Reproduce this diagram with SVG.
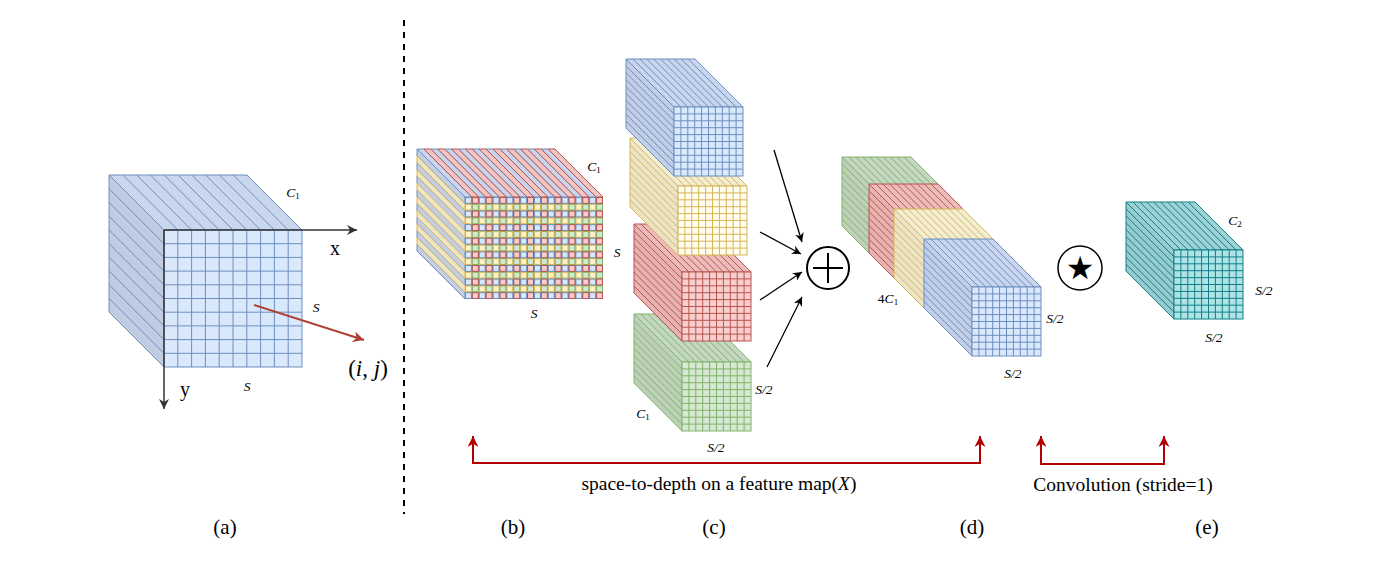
<svg xmlns="http://www.w3.org/2000/svg" xmlns:xlink="http://www.w3.org/1999/xlink" width="1387" height="571" viewBox="0 0 1387 571">
<style>
.t{font-family:"Liberation Serif","DejaVu Serif",serif;fill:#000}
.m{font-family:"Liberation Serif","DejaVu Serif",serif;font-style:italic;fill:#000;font-size:13.5px}
.cap{font-size:21px}
.blue{--f:#dae8fc;--t:#c8d5ec;--l:#c1cee5;--s:#6c8ebf}
.yellow{--f:#fffcf0;--t:#f3edd4;--l:#ece4c8;--s:#d6b656}
.red{--f:#f8cecc;--t:#ecbcba;--l:#e6b3b1;--s:#b85450}
.green{--f:#d5e8d4;--t:#c4d7c2;--l:#bdd0ba;--s:#82b366}
.teal{--f:#b0e3e6;--t:#9fd2d5;--l:#98cbce;--s:#0e8088}
</style>
<defs>
<marker id="ab" viewBox="0 0 10 10" refX="10" refY="5" markerWidth="9" markerHeight="9" markerUnits="userSpaceOnUse" orient="auto-start-reverse"><path d="M0 0L10 5L0 10L3 5z" fill="#000"/></marker>
<marker id="ag" viewBox="0 0 10 10" refX="10" refY="5" markerWidth="10" markerHeight="10" markerUnits="userSpaceOnUse" orient="auto-start-reverse"><path d="M0 0L10 5L0 10L3 5z" fill="#333"/></marker>
<marker id="ar" viewBox="0 0 10 10" refX="10" refY="5" markerWidth="11" markerHeight="11" markerUnits="userSpaceOnUse" orient="auto-start-reverse"><path d="M0 0L10 5L0 10L3 5z" fill="#ae4132"/></marker>
<marker id="ad" viewBox="0 0 10 10" refX="10" refY="5" markerWidth="11" markerHeight="11" markerUnits="userSpaceOnUse" orient="auto-start-reverse"><path d="M0 0L10 5L0 10L3 5z" fill="#b20000"/></marker>
<pattern id="p4" patternUnits="userSpaceOnUse" x="465" y="197" width="13.8" height="13.6">
<rect x="0.5" y="0.5" width="5.9" height="5.8" fill="#dae8fc" stroke="#6c8ebf"/>
<rect x="7.4" y="0.5" width="5.9" height="5.8" fill="#f8cecc" stroke="#b85450"/>
<rect x="0.5" y="7.3" width="5.9" height="5.8" fill="#fff2cc" stroke="#d6b656"/>
<rect x="7.4" y="7.3" width="5.9" height="5.8" fill="#d5e8d4" stroke="#82b366"/>
</pattern>
<g id="cub">
<path style="fill:var(--t);stroke:var(--s)" d="M0 0H69L21-48H-48Z"/>
<path style="fill:var(--l);stroke:var(--s)" d="M0 0V69L-48 21V-48Z"/>
<rect style="fill:var(--f);stroke:var(--s)" x="0" y="0" width="69" height="69"/>
<path style="fill:none;stroke:var(--s)" d="M6.9 0V69M13.8 0V69M20.7 0V69M27.6 0V69M34.5 0V69M41.4 0V69M48.3 0V69M55.2 0V69M62.1 0V69M0 6.9H69M0 13.8H69M0 20.7H69M0 27.6H69M0 34.5H69M0 41.4H69M0 48.3H69M0 55.2H69M0 62.1H69"/>
<path style="fill:none;stroke:var(--s)" d="M6.9 0l-48-48M13.8 0l-48-48M20.7 0l-48-48M27.6 0l-48-48M34.5 0l-48-48M41.4 0l-48-48M48.3 0l-48-48M55.2 0l-48-48M62.1 0l-48-48M0 6.9l-48-48M0 13.8l-48-48M0 20.7l-48-48M0 27.6l-48-48M0 34.5l-48-48M0 41.4l-48-48M0 48.3l-48-48M0 55.2l-48-48M0 62.1l-48-48"/>
</g>
</defs>
<rect width="1387" height="571" fill="#fff"/>

<!-- (a) -->
<g id="node-a-cube">
<path d="M164 230H302L247 175H109Z" fill="#c9d6ec" stroke="#6c8ebf"/>
<path d="M164 230V367L109 312V175Z" fill="#bfcce1" stroke="#6c8ebf"/>
<rect x="164" y="230" width="138" height="137" fill="#dae8fc" stroke="#6c8ebf"/>
<path fill="none" stroke="#6c8ebf" d="M177.8 230V367M191.6 230V367M205.4 230V367M219.2 230V367M233 230V367M246.8 230V367M260.6 230V367M274.4 230V367M288.2 230V367M164 243.7H302M164 257.4H302M164 271.1H302M164 284.8H302M164 298.5H302M164 312.2H302M164 325.9H302M164 339.6H302M164 353.3H302"/>
<path fill="none" stroke="#6c8ebf" d="M177.8 230l-55-55M191.6 230l-55-55M205.4 230l-55-55M219.2 230l-55-55M233 230l-55-55M246.8 230l-55-55M260.6 230l-55-55M274.4 230l-55-55M288.2 230l-55-55M164 243.7l-55-55M164 257.4l-55-55M164 271.1l-55-55M164 284.8l-55-55M164 298.5l-55-55M164 312.2l-55-55M164 325.9l-55-55M164 339.6l-55-55M164 353.3l-55-55"/>
<text class="m" x="293" y="197" text-anchor="middle">C<tspan font-style="normal" font-size="9" dy="2">1</tspan></text>
<text class="m" x="316" y="312" text-anchor="middle">S</text>
<text class="m" x="247" y="391" text-anchor="middle">S</text>
</g>
<g id="axes-a">
<path d="M164 230H357" fill="none" stroke="#333" stroke-width="1.5" marker-end="url(#ag)"/>
<path d="M164 230V409" fill="none" stroke="#333" stroke-width="1.5" marker-end="url(#ag)"/>
<text class="t" x="335" y="255" font-size="20" text-anchor="middle">x</text>
<text class="t" x="185" y="396" font-size="20" text-anchor="middle">y</text>
<path d="M254 305L364 340" fill="none" stroke="#ae4132" stroke-width="2" marker-end="url(#ar)"/>
<text class="t" x="368" y="376" font-size="23" text-anchor="middle">(<tspan font-style="italic">i</tspan>, <tspan font-style="italic">j</tspan>)</text>
</g>

<path id="divider" d="M404 20V514" fill="none" stroke="#000" stroke-width="2" stroke-dasharray="6 6"/>

<!-- (b) -->
<g id="node-b">
<path fill="#c8d5ec" stroke="#6c8ebf" d="M465 197h6.9l-48-48h-6.9zM478.8 197h6.9l-48-48h-6.9zM492.6 197h6.9l-48-48h-6.9zM506.4 197h6.9l-48-48h-6.9zM520.2 197h6.9l-48-48h-6.9zM534 197h6.9l-48-48h-6.9zM547.8 197h6.9l-48-48h-6.9zM561.6 197h6.9l-48-48h-6.9zM575.4 197h6.9l-48-48h-6.9zM589.2 197h6.9l-48-48h-6.9z"/>
<path fill="#f0c6c5" stroke="#b85450" d="M471.9 197h6.9l-48-48h-6.9zM485.7 197h6.9l-48-48h-6.9zM499.5 197h6.9l-48-48h-6.9zM513.3 197h6.9l-48-48h-6.9zM527.1 197h6.9l-48-48h-6.9zM540.9 197h6.9l-48-48h-6.9zM554.7 197h6.9l-48-48h-6.9zM568.5 197h6.9l-48-48h-6.9zM582.3 197h6.9l-48-48h-6.9zM596.1 197h6.9l-48-48h-6.9z"/>
<path fill="#c1cee5" stroke="#6c8ebf" d="M465 197v6.8l-48-48v-6.8zM465 210.6v6.8l-48-48v-6.8zM465 224.2v6.8l-48-48v-6.8zM465 237.8v6.8l-48-48v-6.8zM465 251.4v6.8l-48-48v-6.8zM465 265v6.8l-48-48v-6.8zM465 278.6v6.8l-48-48v-6.8zM465 292.2v6.8l-48-48v-6.8z"/>
<path fill="#eee5c6" stroke="#d6b656" d="M465 203.8v6.8l-48-48v-6.8zM465 217.4v6.8l-48-48v-6.8zM465 231v6.8l-48-48v-6.8zM465 244.6v6.8l-48-48v-6.8zM465 258.2v6.8l-48-48v-6.8zM465 271.8v6.8l-48-48v-6.8zM465 285.4v6.8l-48-48v-6.8z"/>
<rect x="465" y="197" width="138" height="102" fill="url(#p4)"/>
<text class="m" x="594" y="171" text-anchor="middle">C<tspan font-style="normal" font-size="9" dy="2">1</tspan></text>
<text class="m" x="617" y="257" text-anchor="middle">S</text>
<text class="m" x="534" y="318" text-anchor="middle">S</text>
</g>

<!-- (c) -->
<g id="node-c">
<g id="node-c-green"><use xlink:href="#cub" href="#cub" class="green" x="682" y="362"/></g>
<g id="node-c-red"><use xlink:href="#cub" href="#cub" class="red" x="682" y="272"/></g>
<g id="node-c-yellow"><use xlink:href="#cub" href="#cub" class="yellow" x="678" y="186"/></g>
<g id="node-c-blue"><use xlink:href="#cub" href="#cub" class="blue" x="674" y="107"/></g>
<text class="m" x="764" y="394" text-anchor="middle">S/2</text>
<text class="m" x="643" y="418" text-anchor="middle">C<tspan font-style="normal" font-size="9" dy="2">1</tspan></text>
<text class="m" x="716" y="452" text-anchor="middle">S/2</text>
</g>

<g id="node-plus">
<circle cx="828" cy="268" r="21" fill="#fff" stroke="#000" stroke-width="2"/>
<path d="M813 268H843M828 253V283" stroke="#000" stroke-width="2"/>
</g>

<!-- (d) -->
<g id="node-d">
<g id="node-d-green"><use xlink:href="#cub" href="#cub" class="green" x="890" y="205"/></g>
<g id="node-d-red"><use xlink:href="#cub" href="#cub" class="red" x="917" y="232"/></g>
<g id="node-d-yellow"><use xlink:href="#cub" href="#cub" class="yellow" x="942" y="257"/></g>
<g id="node-d-blue"><use xlink:href="#cub" href="#cub" class="blue" x="972" y="287"/></g>
<text class="m" x="888" y="303" text-anchor="middle"><tspan font-style="normal">4</tspan>C<tspan font-style="normal" font-size="9" dy="2">1</tspan></text>
<text class="m" x="1055" y="323" text-anchor="middle">S/2</text>
<text class="m" x="1013" y="378" text-anchor="middle">S/2</text>
</g>

<g id="node-star">
<circle cx="1080" cy="268" r="22" fill="#fff" stroke="#000" stroke-width="1.5"/>
<text x="1080" y="279" font-family="DejaVu Sans, sans-serif" font-size="32" text-anchor="middle" fill="#000">★</text>
</g>

<!-- (e) -->
<g id="node-e">
<use xlink:href="#cub" href="#cub" class="teal" x="1174" y="250"/>
<text class="m" x="1235" y="225" text-anchor="middle">C<tspan font-style="normal" font-size="9" dy="2">2</tspan></text>
<text class="m" x="1264" y="295" text-anchor="middle">S/2</text>
<text class="m" x="1214" y="342" text-anchor="middle">S/2</text>
</g>

<g id="connectors" fill="none">
<path d="M774 150L802 242" stroke="#000" stroke-width="1.3" marker-end="url(#ab)"/>
<path d="M760 232L801 254" stroke="#000" stroke-width="1.3" marker-end="url(#ab)"/>
<path d="M760 300L802 272" stroke="#000" stroke-width="1.3" marker-end="url(#ab)"/>
<path d="M767 367L802 297" stroke="#000" stroke-width="1.3" marker-end="url(#ab)"/>
<path d="M473 436V463H980V436" stroke="#b20000" stroke-width="2" marker-start="url(#ad)" marker-end="url(#ad)"/>
<path d="M1041 436V464H1164V436" stroke="#b20000" stroke-width="2" marker-start="url(#ad)" marker-end="url(#ad)"/>
</g>

<g id="labels">
<text class="t" x="719" y="490" font-size="19.5" text-anchor="middle">space-to-depth on a feature map(<tspan font-style="italic">X</tspan>)</text>
<text class="t" x="1123" y="491" font-size="19.5" text-anchor="middle">Convolution (stride=1)</text>
<text class="t cap" x="225" y="534" text-anchor="middle">(a)</text>
<text class="t cap" x="513" y="534" text-anchor="middle">(b)</text>
<text class="t cap" x="714" y="534" text-anchor="middle">(c)</text>
<text class="t cap" x="972" y="534" text-anchor="middle">(d)</text>
<text class="t cap" x="1207" y="534" text-anchor="middle">(e)</text>
</g>
</svg>
